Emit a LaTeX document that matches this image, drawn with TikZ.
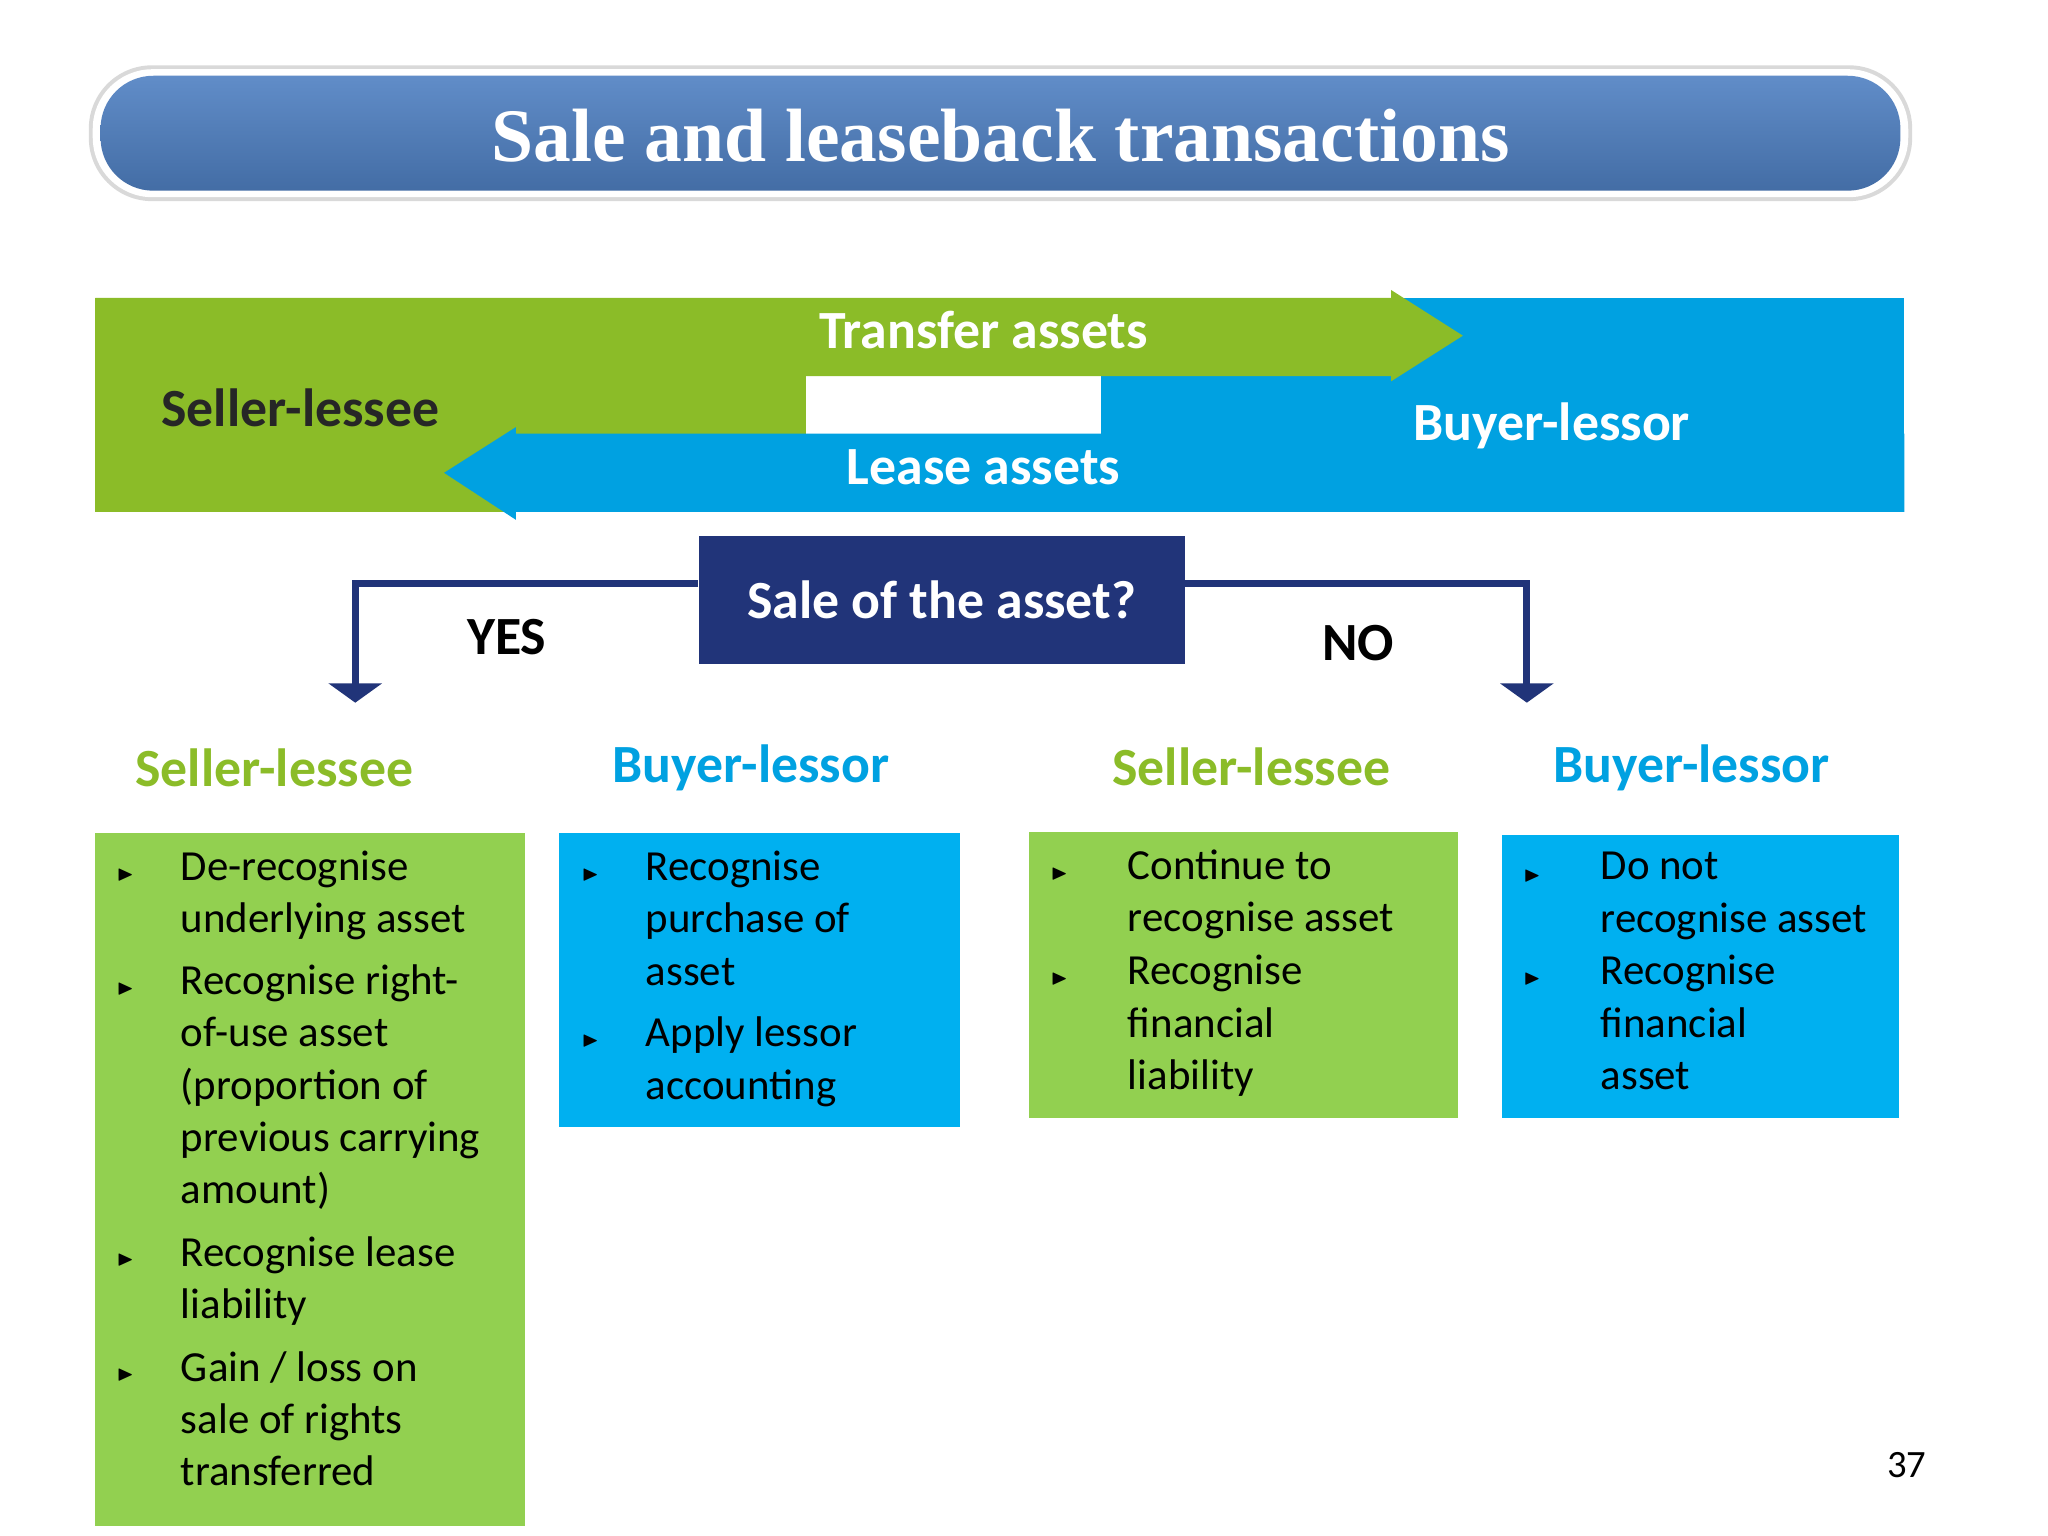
\documentclass[tikz,border=0pt]{standalone}
\usepackage{fontspec}
\usepackage{amssymb}
\setmainfont{Carlito}
\newfontfamily\titlefont{Liberation Serif}
\usetikzlibrary{arrows.meta}
\definecolor{gA}{HTML}{8BBC28}
\definecolor{bA}{HTML}{00A1E1}
\definecolor{gB}{HTML}{92D050}
\definecolor{bB}{HTML}{00B0F0}
\definecolor{navy}{HTML}{213479}
\definecolor{tblue}{HTML}{4F80C2}
\begin{document}
\begin{tikzpicture}[x=0.013061cm,y=-0.013061cm,
  item/.style={anchor=north west,align=left,font=\fontsize{12.2}{14.9}\selectfont,inner sep=0pt},
  bul/.style={anchor=center,font=\tiny,inner sep=0pt},
  head/.style={font=\fontsize{15.3}{18}\selectfont\bfseries},
  box/.style={draw=none}]
\useasboundingbox (0,0) rectangle (1568,1176);
\fill[white] (0,0) rectangle (1568,1176);
% title
\fill[gray!30,rounded corners=18pt] (68,50) rectangle (1464,154);
\fill[white,rounded corners=17pt] (71,53) rectangle (1461,151);
\shade[top color=tblue!90!white,bottom color=tblue!85!black,rounded corners=15pt] (77,58) rectangle (1455,146);
\node[text=white,font=\titlefont\fontsize{21.5}{26}\selectfont\bfseries] (title) at (766,104) {Sale and leaseback transactions};
% band
\fill[gA] (73,228) rectangle (617,392);
\fill[bA] (843,228) rectangle (1458,392);
\fill[gA] (73,228) -- (1065,228) -- (1065,222) -- (1120,257) -- (1065,292) -- (1065,288) -- (73,288) -- cycle;
\fill[bA] (1458,332) -- (395,332) -- (395,327) -- (340,362) -- (395,398) -- (395,392) -- (1458,392) -- cycle;
\node[head,text=white] (ta) at (753,253) {Transfer assets};
\node[head,text=white] (la) at (753,358) {Lease assets};
\node[head,text=black!85] (sl) at (230,312) {Seller-lessee};
\node[head,text=white] (bl) at (1188,326) {Buyer-lessor};
% decision
\node[fill=navy,minimum width=372*0.013061cm,minimum height=98*0.013061cm,inner sep=0pt,text=white,head] (q) at (721,459) {Sale of the asset?};
\coordinate (yesend) at (272,538);
\coordinate (noend) at (1169,538);
\draw[navy,line width=2pt,-{Triangle[width=15pt,length=5.5pt]}] (q.west|-0,447) -| (yesend);
\draw[navy,line width=2pt,-{Triangle[width=15pt,length=5.5pt]}] (q.east|-0,447) -| (noend);
\node[head] (yes) at (388,488) {YES};
\node[head] (no) at (1040,492) {NO};
% headings
\node[head,text=gA] (h1) at (210,588) {Seller-lessee};
\node[head,text=bA] (h2) at (575,588) {Buyer-lessor};
\node[head,text=gA] (h3) at (958,587) {Seller-lessee};
\node[head,text=bA] (h4) at (1295,588) {Buyer-lessor};
% boxes
\fill[gB] (73,638) rectangle (402,1168);
\fill[bB] (428,638) rectangle (735,863);
\fill[gB] (788,637) rectangle (1116,856);
\fill[bB] (1150,639) rectangle (1454,856);
\foreach \y/\t in {666/{De-recognise\\underlying asset},753/{Recognise right-\\of-use asset\\(proportion of\\previous carrying\\amount)},961/{Recognise lease\\liability},1049/{Gain / loss on\\sale of rights\\transferred}}{
  \node[item] at (138,\y-15) {\t};
  \node[bul] at (96,\y+4) {$\blacktriangleright$};}
\foreach \y/\t in {666/{Recognise\\purchase of\\asset},793/{Apply lessor\\accounting}}{
  \node[item] at (494,\y-15) {\t};
  \node[bul] at (452,\y+4) {$\blacktriangleright$};}
\foreach \y/\t in {665/{Continue to\\recognise asset},746/{Recognise\\financial\\liability}}{
  \node[item] at (863,\y-15) {\t};
  \node[bul] at (811,\y+4) {$\blacktriangleright$};}
\foreach \y/\t in {667/{Do not\\recognise asset},746/{Recognise\\financial\\asset}}{
  \node[item] at (1225,\y-15) {\t};
  \node[bul] at (1173,\y+4) {$\blacktriangleright$};}
\node[font=\fontsize{11}{13}\selectfont] (pg) at (1460,1122) {37};
\end{tikzpicture}
\end{document}
